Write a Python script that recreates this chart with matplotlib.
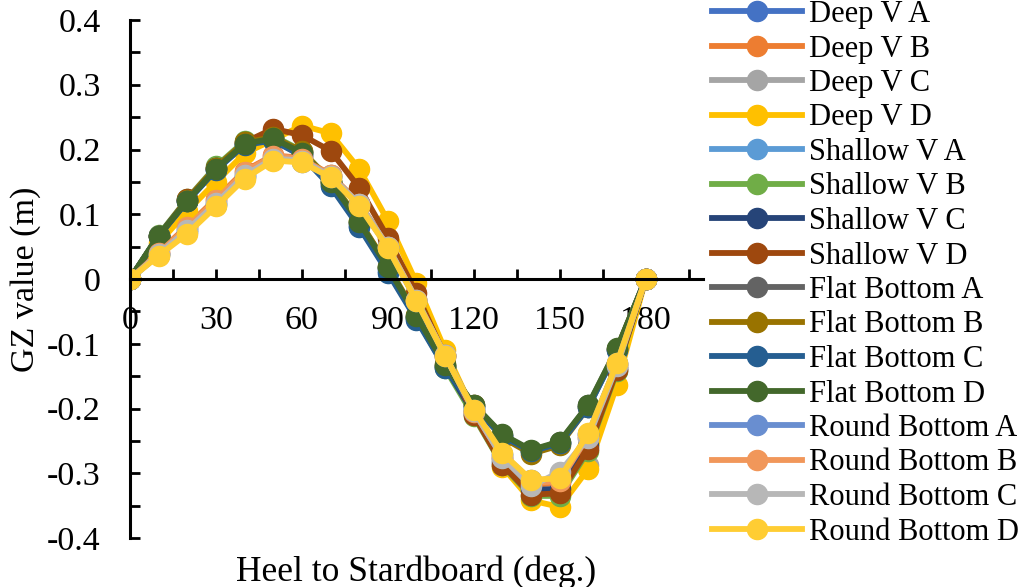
import matplotlib
matplotlib.use("Agg")
import matplotlib.pyplot as plt
from matplotlib.ticker import MultipleLocator, FixedLocator

plt.rcParams['font.family'] = ['Liberation Serif', 'DejaVu Serif']

heel = [0, 10, 20, 30, 40, 50, 60, 70, 80, 90, 100, 110, 120, 130, 140, 150, 160, 170, 180]

deep_v_a = [0, 0.066, 0.120, 0.169, 0.207, 0.214, 0.191, 0.145, 0.082, 0.012, -0.061, -0.136, -0.197, -0.242, -0.265, -0.253, -0.197, -0.109, 0]
deep_v_b = [0, 0.041, 0.082, 0.124, 0.167, 0.191, 0.187, 0.161, 0.117, 0.051, -0.031, -0.117, -0.204, -0.276, -0.318, -0.315, -0.245, -0.134, 0]
deep_v_c = [0, 0.039, 0.078, 0.119, 0.162, 0.187, 0.184, 0.160, 0.117, 0.051, -0.031, -0.117, -0.204, -0.278, -0.322, -0.300, -0.287, -0.140, 0]
deep_v_d = [0, 0.055, 0.105, 0.150, 0.194, 0.215, 0.237, 0.225, 0.170, 0.090, -0.006, -0.110, -0.205, -0.290, -0.342, -0.352, -0.293, -0.163, 0]
shallow_v_a = [0, 0.038, 0.075, 0.116, 0.159, 0.185, 0.182, 0.158, 0.115, 0.050, -0.033, -0.118, -0.203, -0.272, -0.313, -0.311, -0.240, -0.131, 0]
shallow_v_b = [0, 0.068, 0.124, 0.174, 0.213, 0.221, 0.198, 0.152, 0.089, 0.019, -0.060, -0.138, -0.212, -0.288, -0.335, -0.335, -0.265, -0.142, 0]
shallow_v_c = [0, 0.067, 0.122, 0.171, 0.210, 0.219, 0.196, 0.150, 0.087, 0.017, -0.058, -0.135, -0.208, -0.283, -0.326, -0.324, -0.258, -0.138, 0]
shallow_v_d = [0, 0.066, 0.123, 0.172, 0.211, 0.232, 0.222, 0.198, 0.141, 0.064, -0.022, -0.120, -0.210, -0.287, -0.333, -0.331, -0.262, -0.140, 0]
flat_a = [0, 0.066, 0.121, 0.170, 0.209, 0.216, 0.194, 0.149, 0.087, 0.017, -0.058, -0.134, -0.195, -0.241, -0.265, -0.252, -0.195, -0.108, 0]
flat_b = [0, 0.066, 0.122, 0.172, 0.211, 0.219, 0.197, 0.152, 0.090, 0.020, -0.055, -0.132, -0.195, -0.245, -0.270, -0.257, -0.197, -0.108, 0]
flat_c = [0, 0.066, 0.120, 0.168, 0.207, 0.214, 0.190, 0.143, 0.080, 0.010, -0.063, -0.138, -0.198, -0.243, -0.266, -0.254, -0.198, -0.110, 0]
flat_d = [0, 0.067, 0.121, 0.170, 0.209, 0.217, 0.195, 0.150, 0.088, 0.018, -0.057, -0.133, -0.194, -0.240, -0.264, -0.251, -0.194, -0.107, 0]
round_a = [0, 0.037, 0.073, 0.114, 0.157, 0.184, 0.181, 0.157, 0.114, 0.049, -0.034, -0.119, -0.203, -0.270, -0.311, -0.309, -0.239, -0.130, 0]
round_b = [0, 0.040, 0.080, 0.122, 0.165, 0.190, 0.186, 0.160, 0.116, 0.050, -0.032, -0.118, -0.205, -0.275, -0.315, -0.312, -0.242, -0.132, 0]
round_c = [0, 0.038, 0.076, 0.117, 0.160, 0.186, 0.183, 0.159, 0.116, 0.050, -0.032, -0.118, -0.204, -0.276, -0.320, -0.298, -0.245, -0.134, 0]
round_d = [0, 0.036, 0.070, 0.112, 0.155, 0.183, 0.180, 0.157, 0.113, 0.048, -0.034, -0.119, -0.202, -0.269, -0.310, -0.308, -0.238, -0.130, 0]

series_names = ["Deep V A", "Deep V B", "Deep V C", "Deep V D",
                "Shallow V A", "Shallow V B", "Shallow V C", "Shallow V D",
                "Flat Bottom A", "Flat Bottom B", "Flat Bottom C", "Flat Bottom D",
                "Round Bottom A", "Round Bottom B", "Round Bottom C", "Round Bottom D"]
series_values = [deep_v_a, deep_v_b, deep_v_c, deep_v_d,
                 shallow_v_a, shallow_v_b, shallow_v_c, shallow_v_d,
                 flat_a, flat_b, flat_c, flat_d,
                 round_a, round_b, round_c, round_d]
colors = ["#4472C4", "#ED7D31", "#A5A5A5", "#FFC000",
          "#5B9BD5", "#70AD47", "#264478", "#9E480E",
          "#636363", "#997300", "#255E91", "#43682B",
          "#698ED0", "#F1975A", "#B7B7B7", "#FFCD33"]

x_ticklabels = ["0", "30", "60", "90", "120", "150", "180"]
y_ticklabels = ["-0.4", "-0.3", "-0.2", "-0.1", "0", "0.1", "0.2", "0.3", "0.4"]

fig = plt.figure(figsize=(10.2, 5.87), dpi=100)
ax = fig.add_axes([130/1020, 1 - 538/587, (703 - 130)/1020, (538 - 20)/587])

for name, vals, c in zip(series_names, series_values, colors):
    ax.plot(heel, vals, color=c, lw=4.2, marker='o', markersize=14.5,
            markerfacecolor=c, markeredgecolor=c, label=name, solid_joinstyle='round')

ax.set_xlim(0, 200)
ax.set_ylim(-0.4, 0.4)

for s in ['top', 'right']:
    ax.spines[s].set_visible(False)
ax.spines['bottom'].set_position(('data', 0))
ax.spines['bottom'].set_linewidth(2.2)
ax.spines['left'].set_linewidth(2.2)

ax.xaxis.set_major_locator(FixedLocator([0, 30, 60, 90, 120, 150, 180]))
ax.set_xticklabels(x_ticklabels)
ax.xaxis.set_minor_locator(FixedLocator([15, 45, 75, 105, 135, 165, 195]))
ax.yaxis.set_major_locator(FixedLocator([-0.4, -0.3, -0.2, -0.1, 0, 0.1, 0.2, 0.3, 0.4]))
ax.set_yticklabels(y_ticklabels)
ax.yaxis.set_minor_locator(MultipleLocator(0.05))

ax.tick_params(axis='both', which='both', direction='in', length=7, width=2, labelsize=24.5)
ax.tick_params(axis='x', which='major', pad=19)
ax.tick_params(axis='y', which='major', pad=21)

ax.set_xlabel("Heel to Stardboard (deg.)", fontsize=25.5)
ax.xaxis.set_label_coords(0.5, -0.033)
ax.set_ylabel("GZ value (m)", fontsize=24.5)
ax.yaxis.set_label_coords(-0.155, 0.5)

fig.legend(loc='upper left', bbox_to_anchor=(712/1020, 1.0), frameon=False,
           fontsize=22, handlelength=2.95, handletextpad=0.23, labelspacing=0.18,
           borderaxespad=0, borderpad=0.0)

fig.savefig("out.png", dpi=100)
